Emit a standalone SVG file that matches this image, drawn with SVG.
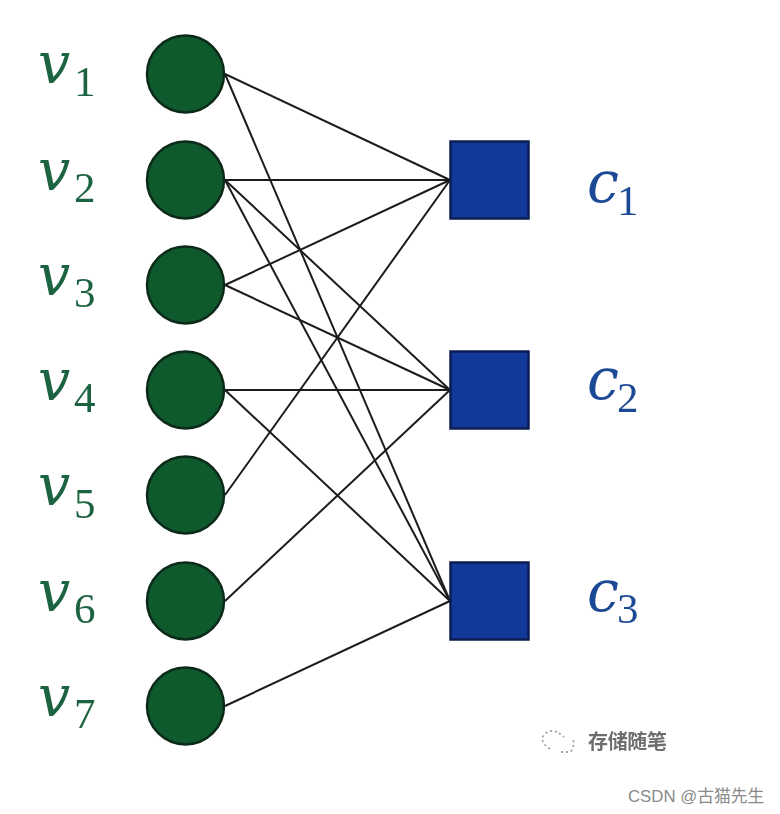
<svg xmlns="http://www.w3.org/2000/svg" width="780" height="814" viewBox="0 0 780 814">
<style>
.v{fill:#0f5a2c;stroke:#0c2a1a;stroke-width:2.5}
.c{fill:#12399a;stroke:#0b1d52;stroke-width:2.5}
.e{stroke:#1c1c1c;stroke-width:2;fill:none}
.m{font-family:"DejaVu Serif",serif;font-style:italic;font-size:57px;filter:url(#s)}
.n{font-family:"Liberation Serif",serif;font-size:43px;filter:url(#s)}
.lv{fill:#1f6342}
.lc{fill:#1f4a94}
</style>
<defs>
<filter id="b" x="-10%" y="-30%" width="120%" height="160%"><feGaussianBlur stdDeviation="0.7"/></filter>
<filter id="s" x="-10%" y="-10%" width="120%" height="120%"><feGaussianBlur stdDeviation="0.4"/></filter>
</defs>
<rect width="780" height="814" fill="#ffffff"/>
<g id="connectors" class="e">
<line x1="225" y1="74" x2="450" y2="180"/>
<line x1="225" y1="74" x2="450" y2="601"/>
<line x1="225" y1="180" x2="450" y2="180"/>
<line x1="225" y1="180" x2="450" y2="390"/>
<line x1="225" y1="180" x2="450" y2="601"/>
<line x1="225" y1="285" x2="450" y2="180"/>
<line x1="225" y1="285" x2="450" y2="390"/>
<line x1="225" y1="390" x2="450" y2="390"/>
<line x1="225" y1="390" x2="450" y2="601"/>
<line x1="225" y1="495" x2="450" y2="180"/>
<line x1="225" y1="601" x2="450" y2="390"/>
<line x1="225" y1="706" x2="450" y2="601"/>
</g>
<g id="v1"><circle class="v" cx="185.5" cy="74" r="38.5"/><text class="m lv" x="38" y="83">v</text><text class="n lv" x="74" y="96">1</text></g>
<g id="v2"><circle class="v" cx="185.5" cy="180" r="38.5"/><text class="m lv" x="38" y="190">v</text><text class="n lv" x="74" y="202">2</text></g>
<g id="v3"><circle class="v" cx="185.5" cy="285" r="38.5"/><text class="m lv" x="38" y="295">v</text><text class="n lv" x="74" y="307">3</text></g>
<g id="v4"><circle class="v" cx="185.5" cy="390" r="38.5"/><text class="m lv" x="38" y="400">v</text><text class="n lv" x="74" y="412">4</text></g>
<g id="v5"><circle class="v" cx="185.5" cy="495" r="38.5"/><text class="m lv" x="38" y="505">v</text><text class="n lv" x="74" y="518">5</text></g>
<g id="v6"><circle class="v" cx="185.5" cy="601" r="38.5"/><text class="m lv" x="38" y="611">v</text><text class="n lv" x="74" y="623">6</text></g>
<g id="v7"><circle class="v" cx="185.5" cy="706" r="38.5"/><text class="m lv" x="38" y="716">v</text><text class="n lv" x="74" y="728">7</text></g>
<g id="c1"><rect class="c" x="450.5" y="141.5" width="78" height="77"/><text class="m lc" x="587" y="202">c</text><text class="n lc" x="617" y="215">1</text></g>
<g id="c2"><rect class="c" x="450.5" y="351.5" width="78" height="77"/><text class="m lc" x="587" y="399">c</text><text class="n lc" x="617" y="412">2</text></g>
<g id="c3"><rect class="c" x="450.5" y="562.5" width="78" height="77"/><text class="m lc" x="587" y="611">c</text><text class="n lc" x="617" y="623">3</text></g>
<g id="watermark">
<path d="M557 732 Q548 728 542 738 Q543 746 552 750 M559 733 L564 737 M561 752 L570 752 Q575 748 573 738" fill="none" stroke="#a0a0a0" stroke-width="1.8" stroke-dasharray="2 3" filter="url(#b)"/>
<text x="588" y="749" font-family="'Noto Sans CJK SC',sans-serif" font-size="20" font-weight="700" fill="#6e6e6e" textLength="79" filter="url(#b)">存储随笔</text>
</g>
<text x="628" y="802" font-family="'Liberation Sans','Noto Sans CJK SC',sans-serif" font-size="16.8" fill="#8a8a8a">CSDN @古猫先生</text>
</svg>
